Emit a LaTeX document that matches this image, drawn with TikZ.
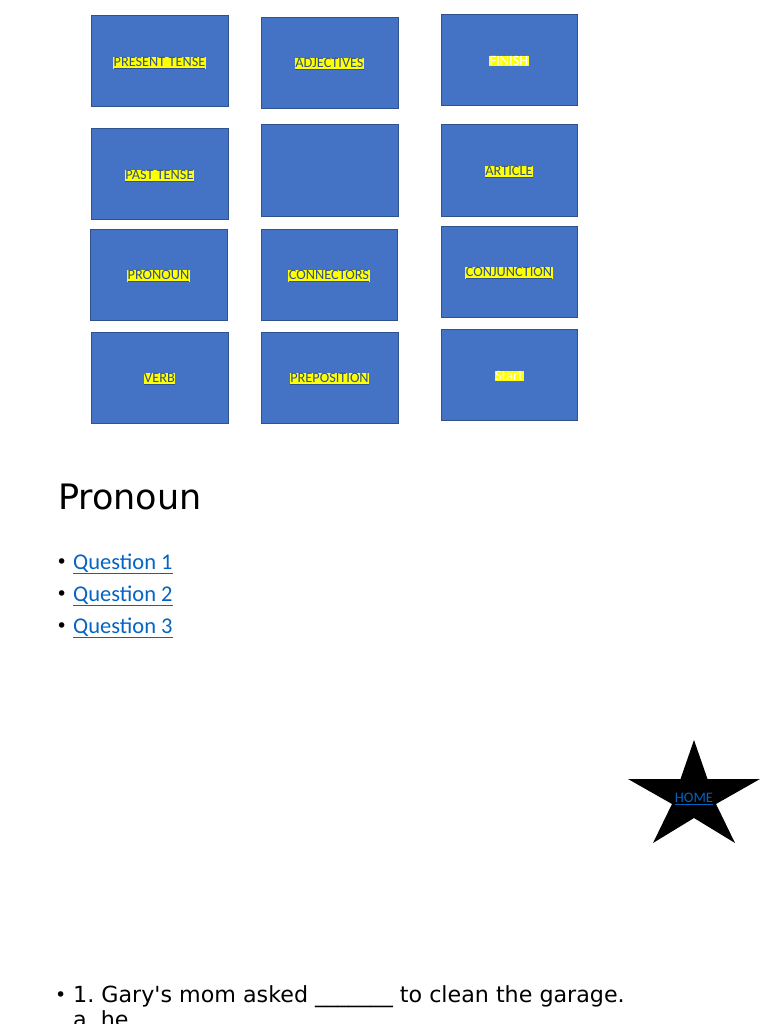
\documentclass[tikz,border=0pt]{standalone}
\usepackage{fontspec}
\setmainfont{Carlito}
\newfontfamily\dejavu{DejaVu Sans}
\definecolor{boxblue}{HTML}{4472C4}
\definecolor{boxedge}{HTML}{2F528F}
\definecolor{linkblue}{HTML}{0563C1}
\definecolor{hl}{HTML}{FFFF00}
\frenchspacing
\begin{document}
\begin{tikzpicture}[x=1pt,y=-1pt,
  tile/.style={draw=boxedge,fill=boxblue,line width=0.7pt},
  lbl/.style={fill=hl,inner sep=0.6pt,text=boxedge,font=\fontsize{14.3}{15}\selectfont},
  wlbl/.style={fill=hl,inner sep=0.6pt,text=white,font=\fontsize{14.3}{15}\selectfont},
  link/.style={anchor=base west,text=linkblue,font=\fontsize{22.5}{24}\selectfont,inner sep=0},
  bul/.style={anchor=base west,inner sep=0,font=\dejavu\fontsize{19}{21}\selectfont}]
\useasboundingbox (0,0) rectangle (768,1024);
% tiles
\draw[tile] (91,15) rectangle (228,106);
\draw[tile] (261,17) rectangle (398,108);
\draw[tile] (441,14) rectangle (577,105);
\draw[tile] (91,128) rectangle (228,219);
\draw[tile] (261,124) rectangle (398,216);
\draw[tile] (441,124) rectangle (577,216);
\draw[tile] (90,229) rectangle (227,320);
\draw[tile] (261,229) rectangle (397,320);
\draw[tile] (441,226) rectangle (577,317);
\draw[tile] (91,332) rectangle (228,423);
\draw[tile] (261,332) rectangle (398,423);
\draw[tile] (441,329) rectangle (577,420);
\node[lbl] (t1) at (159.5,63) {\underline{PRESENT TENSE}};
\node[lbl] (t2) at (329.5,64) {\underline{ADJECTIVES}};
\node[wlbl] (t3) at (509,61) {FINISH};
\node[lbl] (t4) at (159.5,176) {\underline{PAST TENSE}};
\node[lbl] (t6) at (509,172) {\underline{ARTICLE}};
\node[lbl] (t7) at (158.5,276) {\underline{PRONOUN}};
\node[lbl] (t8) at (329,276) {\underline{CONNECTORS}};
\node[lbl] (t9) at (509,273) {\underline{CONJUNCTION}};
\node[lbl] (t10) at (159.5,379) {\underline{VERB}};
\node[lbl] (t11) at (329.5,379) {\underline{PREPOSITION}};
\node[wlbl] (t12) at (509,376) {Start};
% title
\node[anchor=base west,inner sep=0,font=\dejavu\fontsize{35}{37}\selectfont] (title) at (58,509) {Pronoun};
\node[bul] (b1) at (56,568) {•};
\node[bul] (b2) at (56,600) {•};
\node[bul] (b3) at (56,632) {•};
\node[link] (q1) at (73,569) {\underline{Question 1}};
\node[link] (q2) at (73,601) {\underline{Question 2}};
\node[link] (q3) at (73,633) {\underline{Question 3}};
% star
\fill (694,740) -- (707.5,779) -- (760,779) -- (716,804) -- (735,843) -- (694,818) -- (653,843) -- (672,804) -- (628,779) -- (680.5,779) -- cycle;
\node[text=linkblue,font=\fontsize{14.5}{16}\selectfont,inner sep=0] (home) at (694,799) {\underline{HOME}};
% question
\node[bul] (qb) at (55,1001) {•};
\node[anchor=base west,inner sep=0,font=\dejavu\fontsize{22.2}{24}\selectfont] (qt) at (73,1002) {1. Gary's mom asked \_\_\_\_\_\_\_ to clean the garage.};
\node[anchor=base west,inner sep=0,font=\dejavu\fontsize{22.2}{24}\selectfont] (qa) at (73,1027) {a. he};
\end{tikzpicture}
\end{document}
